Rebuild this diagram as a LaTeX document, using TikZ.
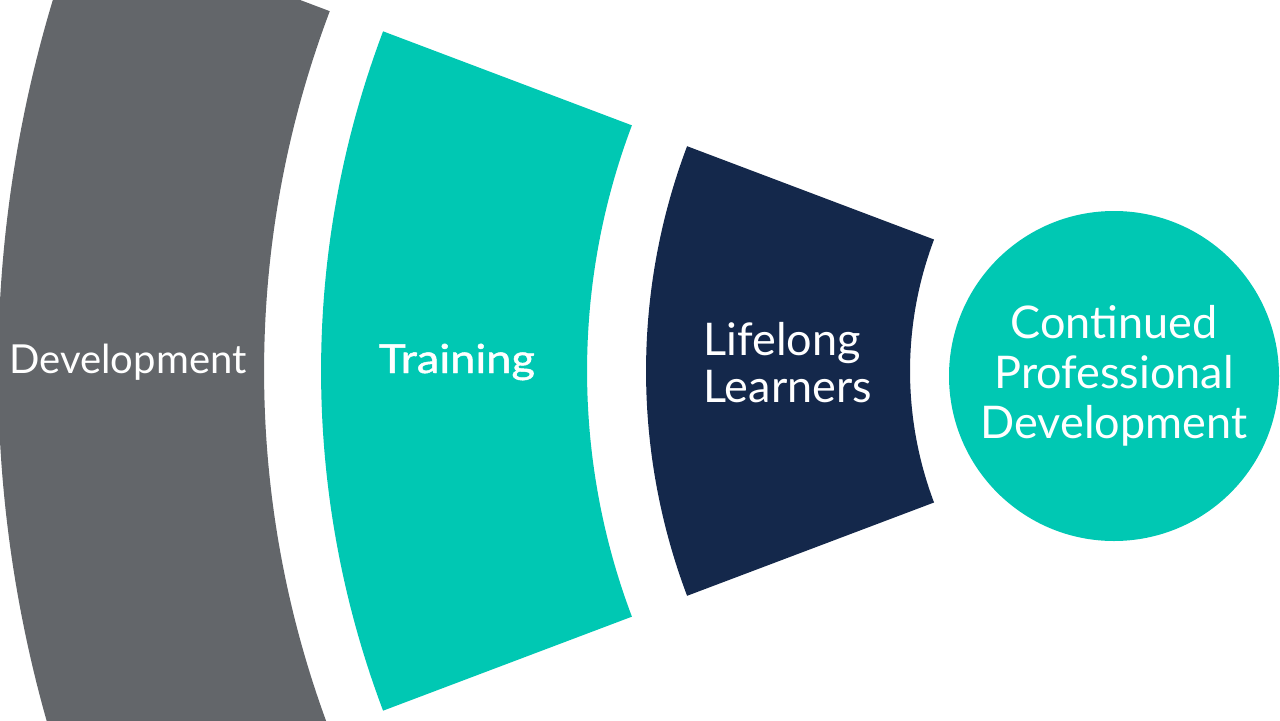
\documentclass[tikz,border=0pt]{standalone}
\usepackage{fontspec}
\setmainfont{Lato}
\newfontfamily\widefont{Lato}[FakeStretch=1.13, FakeBold=1.2]
\usetikzlibrary{calc}

\definecolor{bandgray}{HTML}{63666A}
\definecolor{bandteal}{HTML}{00C8B3}
\definecolor{bandnavy}{HTML}{14284B}

\begin{document}
\begin{tikzpicture}[x=0.5pt, y=0.5pt,
  lbl/.style={text=white, inner sep=0pt, font=\fontsize{20}{23}\selectfont},
  lblwide/.style={lbl, font=\widefont\fontsize{20}{23}\selectfont},
  lblbig/.style={lbl, align=left, font=\fontsize{22.5}{23.5}\selectfont},
  goal/.style={circle, fill=bandteal, minimum size=165pt, inner sep=0pt,
               text=white, align=center, font=\fontsize{22.5}{25}\selectfont},
]
\useasboundingbox (0,0) rectangle (1280,720);
\clip (0,0) rectangle (1280,720);

% --- funnel bands (common centre right of the page) ---
\coordinate (o) at (1282,349);
\foreach \rin/\rout/\col in {1018/1284/bandgray, 695/961/bandteal, 372/636/bandnavy}
  \fill[\col] ($(o)+(159.3:\rout)$) arc[start angle=159.3, end angle=200.7, radius=\rout]
    -- ($(o)+(200.7:\rin)$) arc[start angle=200.7, end angle=159.3, radius=\rin] -- cycle;

% --- labels ---
\node[lbl, anchor=base] (dev) at (128,347) {Development};
\node[lblwide, anchor=base] (train) at (457,347) {Training};
\node[lblbig, anchor=west] (life) at (703,357) {Lifelong\\Learners};

% --- end point ---
\node[goal] (cpd) at (1114,344) {Continued\\Professional\\Development};

\end{tikzpicture}
\end{document}
